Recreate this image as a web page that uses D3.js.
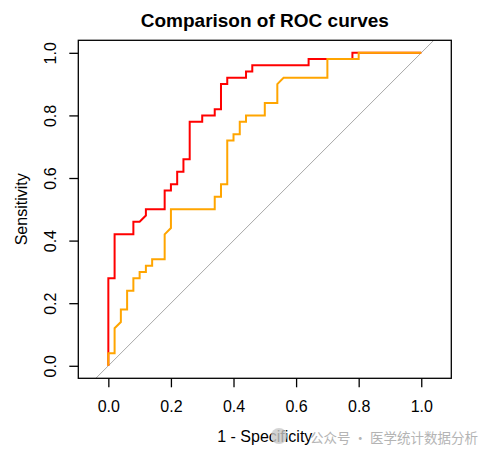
<!DOCTYPE html>
<html>
<head>
<meta charset="utf-8">
<script src="https://cdn.jsdelivr.net/npm/d3@7"></script>
<style>
  body { margin: 0; background: #fff; }
  svg { display: block; font-family: Arial, "Liberation Sans", sans-serif; }
</style>
</head>
<body>
<svg id="chart" width="492" height="457"></svg>
<script>
// 1 - specificity / sensitivity vertices
var redFpr = [0, 0, 0.02, 0.02, 0.08, 0.08, 0.10, 0.12, 0.12, 0.18, 0.18, 0.20, 0.20, 0.22, 0.22, 0.24, 0.24, 0.26, 0.26, 0.30, 0.30, 0.34, 0.34, 0.36, 0.36, 0.38, 0.38, 0.44, 0.44, 0.46, 0.46, 0.64, 0.64, 0.78, 0.78, 1.0];
var redTpr = [0, 0.28, 0.28, 0.42, 0.42, 0.46, 0.46, 0.48, 0.50, 0.50, 0.56, 0.56, 0.58, 0.58, 0.62, 0.62, 0.66, 0.66, 0.78, 0.78, 0.80, 0.80, 0.82, 0.82, 0.90, 0.90, 0.92, 0.92, 0.94, 0.94, 0.96, 0.96, 0.98, 0.98, 1.0, 1.0];

var orangeFpr = [0, 0, 0.02, 0.02, 0.04, 0.04, 0.06, 0.06, 0.08, 0.08, 0.10, 0.10, 0.12, 0.12, 0.14, 0.14, 0.18, 0.18, 0.20, 0.20, 0.34, 0.34, 0.36, 0.36, 0.38, 0.38, 0.40, 0.40, 0.42, 0.42, 0.44, 0.44, 0.50, 0.50, 0.54, 0.54, 0.56, 0.70, 0.70, 0.80, 0.80, 1.0];
var orangeTpr = [0, 0.04, 0.04, 0.12, 0.14, 0.18, 0.18, 0.24, 0.24, 0.28, 0.28, 0.30, 0.30, 0.32, 0.32, 0.34, 0.34, 0.42, 0.44, 0.50, 0.50, 0.54, 0.54, 0.58, 0.58, 0.72, 0.72, 0.74, 0.74, 0.78, 0.78, 0.80, 0.80, 0.84, 0.84, 0.90, 0.92, 0.92, 0.98, 0.98, 1.0, 1.0];

var ticks = [0, 0.2, 0.4, 0.6, 0.8, 1.0];

var svg = d3.select("#chart");

var plotLeft = 78.3, plotRight = 451.3, plotTop = 40.3, plotBottom = 378.3;

var x = d3.scaleLinear().domain([-0.096, 1.096]).range([plotLeft, plotRight]);
var y = d3.scaleLinear().domain([-0.04, 1.04]).range([plotBottom, plotTop]);

svg.append("clipPath").attr("id", "plotclip")
    .append("rect")
    .attr("x", plotLeft).attr("y", plotTop)
    .attr("width", plotRight - plotLeft).attr("height", plotBottom - plotTop);

// chance diagonal
svg.append("line")
    .attr("clip-path", "url(#plotclip)")
    .attr("x1", x(-0.2)).attr("y1", y(-0.2))
    .attr("x2", x(1.2)).attr("y2", y(1.2))
    .attr("stroke", "#a8a8a8")
    .attr("stroke-width", 1);

var line = d3.line()
    .x(function(d) { return x(d[0]); })
    .y(function(d) { return y(d[1]); });

function drawCurve(fpr, tpr, color){
    svg.append("path")
        .datum(d3.zip(fpr, tpr))
        .attr("d", line)
        .attr("fill", "none")
        .attr("stroke", color)
        .attr("stroke-width", 2);
}

drawCurve(redFpr, redTpr, "#ff0000");
drawCurve(orangeFpr, orangeTpr, "#ffa500");

// box
svg.append("rect")
    .attr("x", plotLeft).attr("y", plotTop)
    .attr("width", plotRight - plotLeft).attr("height", plotBottom - plotTop)
    .attr("fill", "none")
    .attr("stroke", "#000")
    .attr("stroke-width", 1.3);

var fmt = d3.format(".1f");

var xAxis = svg.append("g")
    .attr("transform", "translate(0," + plotBottom + ")")
    .call(d3.axisBottom(x).tickValues(ticks).tickFormat(fmt).tickSize(9).tickPadding(13));
xAxis.select(".domain").remove();
xAxis.selectAll("line").attr("stroke-width", 1.3);
xAxis.selectAll("text").attr("font-size", 16).attr("fill", "#000")
    .attr("font-family", "Arial, 'Liberation Sans', sans-serif");

var yAxis = svg.append("g")
    .attr("transform", "translate(" + plotLeft + ",0)")
    .call(d3.axisLeft(y).tickValues(ticks).tickFormat(fmt).tickSize(9));
yAxis.select(".domain").remove();
yAxis.selectAll("line").attr("stroke-width", 1.3);
yAxis.selectAll("text")
    .attr("font-size", 16).attr("fill", "#000")
    .attr("font-family", "Arial, 'Liberation Sans', sans-serif")
    .attr("x", null).attr("dy", null)
    .attr("text-anchor", "middle")
    .attr("transform", "translate(-22,0) rotate(-90)");

// title and labels
svg.append("text")
    .attr("x", (plotLeft + plotRight) / 2).attr("y", 27)
    .attr("text-anchor", "middle")
    .attr("font-size", 19).attr("font-weight", "bold")
    .text("Comparison of ROC curves");

svg.append("text")
    .attr("x", (plotLeft + plotRight) / 2).attr("y", 442)
    .attr("text-anchor", "middle")
    .attr("font-size", 16)
    .text("1 - Specificity");

svg.append("text")
    .attr("transform", "translate(27," + (plotTop + plotBottom) / 2 + ") rotate(-90)")
    .attr("text-anchor", "middle")
    .attr("font-size", 16)
    .text("Sensitivity");

// watermark
svg.append("circle")
    .attr("cx", 279).attr("cy", 436).attr("r", 8)
    .attr("fill", "#c8c8c8").attr("opacity", 0.8);
svg.append("text")
    .attr("x", 310).attr("y", 443)
    .attr("font-size", 13.5)
    .attr("fill", "#b4b4b4")
    .attr("font-family", "'Noto Sans CJK SC', sans-serif")
    .text("公众号 · 医学统计数据分析");
</script>
</body>
</html>
